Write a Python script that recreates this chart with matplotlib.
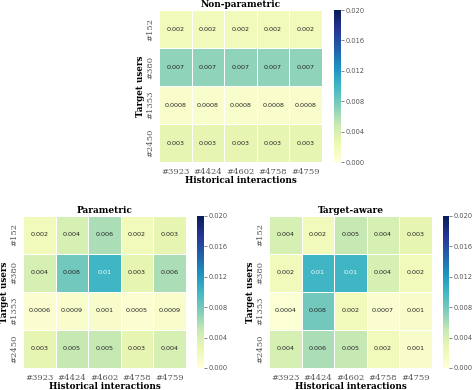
import numpy as np
import matplotlib
matplotlib.use('Agg')
import matplotlib.pyplot as plt
import seaborn as sns

# Row / column labels
target_users = ['#152', '#380', '#1353', '#2450']
hist_items = ['#3923', '#4424', '#4602', '#4758', '#4759']

# Attention scores
non_parametric = [
    [0.002, 0.002, 0.002, 0.002, 0.002],
    [0.007, 0.007, 0.007, 0.007, 0.007],
    [0.0008, 0.0008, 0.0008, 0.0008, 0.0008],
    [0.003, 0.003, 0.003, 0.003, 0.003],
]
parametric = [
    [0.002, 0.004, 0.006, 0.002, 0.003],
    [0.004, 0.008, 0.01, 0.003, 0.006],
    [0.0006, 0.0009, 0.001, 0.0005, 0.0009],
    [0.003, 0.005, 0.005, 0.003, 0.004],
]
target_aware = [
    [0.004, 0.002, 0.005, 0.004, 0.003],
    [0.002, 0.01, 0.01, 0.004, 0.002],
    [0.0004, 0.008, 0.002, 0.0007, 0.001],
    [0.004, 0.006, 0.005, 0.002, 0.001],
]

W, H = 474, 390


def px_axes(fig, x0, y0, x1, y1):
    # place axes from pixel box (top-left origin)
    return fig.add_axes([x0 / W, 1 - y1 / H, (x1 - x0) / W, (y1 - y0) / H])


def draw_panel(fig, data, title, box, cbox):
    ax = px_axes(fig, *box)
    cax = px_axes(fig, *cbox)
    sns.heatmap(np.array(data), ax=ax, cbar_ax=cax, cmap='YlGnBu', vmin=0, vmax=0.02,
                annot=True, fmt='g', annot_kws={'fontsize': 4.6},
                linewidths=0.6, linecolor='white',
                xticklabels=hist_items, yticklabels=target_users)
    ax.set_title(title, fontsize=6.5, fontweight='bold', family='DejaVu Serif', pad=2)
    ax.set_xlabel('Historical interactions', fontsize=6.3, fontweight='bold',
                  family='DejaVu Serif', labelpad=0)
    ax.set_ylabel('Target users', fontsize=6.3, fontweight='bold',
                  family='DejaVu Serif', labelpad=1)
    ax.tick_params(axis='x', length=0, pad=4)
    ax.tick_params(axis='y', length=0, pad=3)
    for lbl in ax.get_xticklabels():
        lbl.set_family('DejaVu Serif')
        lbl.set_fontsize(6)
        lbl.set_color('#555555')
        lbl.set_rotation(0)
    for lbl in ax.get_yticklabels():
        lbl.set_family('DejaVu Serif')
        lbl.set_fontsize(6)
        lbl.set_color('#555555')
        lbl.set_rotation(90)
        lbl.set_va('center')
    cax.set_yticks([0, 0.004, 0.008, 0.012, 0.016, 0.02])
    cax.set_yticklabels(['0.000', '0.004', '0.008', '0.012', '0.016', '0.020'])
    cax.tick_params(labelsize=4.8, length=2, width=0.5, pad=1, colors='#555555')
    for s in cax.spines.values():
        s.set_visible(False)


fig = plt.figure(figsize=(W / 100, H / 100), dpi=100)

draw_panel(fig, non_parametric, 'Non-parametric', (159, 10, 322, 162), (334, 10, 341, 162))
draw_panel(fig, parametric, 'Parametric', (23, 216, 186, 368), (197, 216, 204, 368))
draw_panel(fig, target_aware, 'Target-aware', (269, 216, 432, 368), (443, 216, 449, 368))

fig.savefig('out.png', dpi=100)
